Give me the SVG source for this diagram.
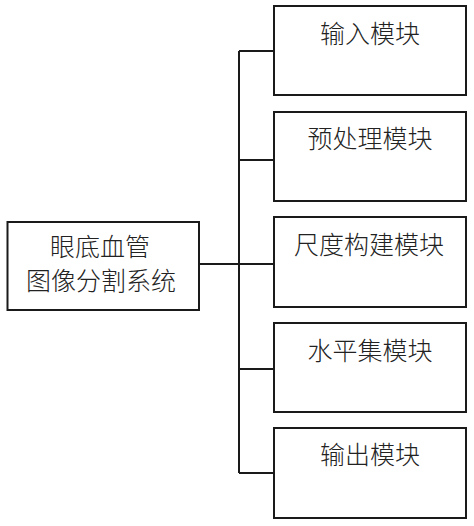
<svg xmlns="http://www.w3.org/2000/svg" width="474" height="526" viewBox="0 0 474 526">
<style>
.box{fill:#fff;stroke:#1a1a1a;stroke-width:2}
.conn{fill:none;stroke:#1a1a1a;stroke-width:2}
text{font-family:"Noto Sans CJK SC","Noto Sans CJK JP",sans-serif;font-size:25px;font-weight:300;fill:#222;text-anchor:middle}
</style>
<rect width="474" height="526" fill="#fff"/>
<g id="connectors">
<path class="conn" d="M199,264 H239 M239,51 V473 M239,51 H274 M239,160 H274 M239,264 H274 M239,369 H274 M239,473 H274"/>
</g>
<g id="main">
<rect class="box" x="7.5" y="222" width="191.5" height="88"/>
<text x="100" y="256">眼底血管</text>
<text x="101" y="290">图像分割系统</text>
</g>
<g id="input">
<rect class="box" x="274" y="6" width="192" height="89"/>
<text x="370" y="43">输入模块</text>
</g>
<g id="preprocess">
<rect class="box" x="274" y="112" width="192" height="89"/>
<text x="370" y="148">预处理模块</text>
</g>
<g id="scale">
<rect class="box" x="274" y="217" width="192" height="90"/>
<text x="369" y="254">尺度构建模块</text>
</g>
<g id="levelset">
<rect class="box" x="274" y="323" width="192" height="89"/>
<text x="370" y="360">水平集模块</text>
</g>
<g id="output">
<rect class="box" x="274" y="428" width="192" height="90"/>
<text x="370" y="464">输出模块</text>
</g>
</svg>
